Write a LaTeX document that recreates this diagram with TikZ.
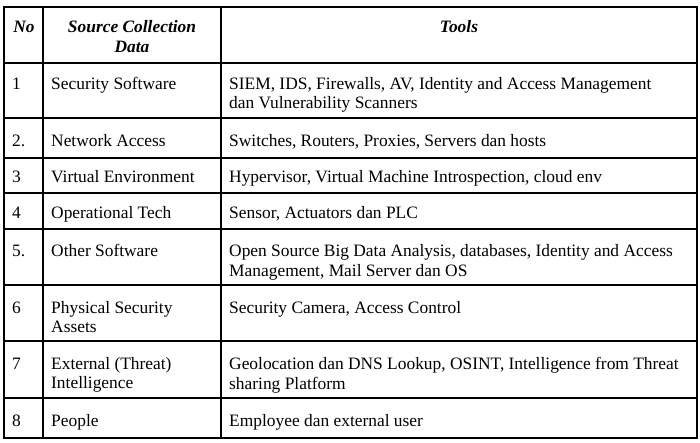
\documentclass[tikz,border=0pt]{standalone}
\usepackage{fontspec}
\setmainfont{Liberation Serif}
\begin{document}
\begin{tikzpicture}[x=1pt,y=-1pt,
  cell/.style={anchor=base west,inner sep=0pt,font=\fontsize{17.4}{19}\selectfont},
  head/.style={anchor=base,inner sep=0pt,font=\fontsize{17.4}{19}\selectfont\bfseries\itshape},
  rule/.style={line width=1.1pt}]
\useasboundingbox (0,0) rectangle (700,443);
\draw[rule] (4,7) rectangle (697,438);
\foreach \y in {63,118,158,193,229,285,341,398} \draw[rule] (4,\y) -- (697,\y);
\draw[rule] (43,7) -- (43,438);
\draw[rule] (221,7) -- (221,438);
\begin{scope}[yshift=-2pt]
\node[head] (h1) at (24,31) {No};
\node[head] (h2) at (132,31) {Source Collection};
\node[head] (h2b) at (132,51) {Data};
\node[head] (h3) at (459,31) {Tools};
\foreach \n/\y/\a/\b [count=\i] in {
 1/88/{Security Software}/{},
 2./145/{Network Access}/{},
 3/181/{Virtual Environment}/{},
 4/217/{Operational Tech}/{},
 5./254/{Other Software}/{},
 6/311/{Physical Security}/{Assets},
 7/367/{External (Threat)}/{Intelligence},
 8/424/{People}/{}}{
 \node[cell] (n\i) at (12,\y) {\n};
 \node[cell] (s\i) at (51,\y) {\a};
 \node[cell] (t\i) at (51,\y+19) {\b};
}
\node[cell] (a1) at (229,88) {SIEM, IDS, Firewalls, AV, Identity and Access Management};
\node[cell] (b1) at (229,107) {dan Vulnerability Scanners};
\node[cell] (a2) at (229,145) {Switches, Routers, Proxies, Servers dan hosts};
\node[cell] (a3) at (229,181) {Hypervisor, Virtual Machine Introspection, cloud env};
\node[cell] (a4) at (229,217) {Sensor, Actuators dan PLC};
\node[cell] (a5) at (229,254) {Open Source Big Data Analysis, databases, Identity and Access};
\node[cell] (b5) at (229,274) {Management, Mail Server dan OS};
\node[cell] (a6) at (229,311) {Security Camera, Access Control};
\node[cell] (a7) at (229,367) {Geolocation dan DNS Lookup, OSINT, Intelligence from Threat};
\node[cell] (b7) at (229,387) {sharing Platform};
\node[cell] (a8) at (229,424) {Employee dan external user};
\end{scope}
\end{tikzpicture}
\end{document}
